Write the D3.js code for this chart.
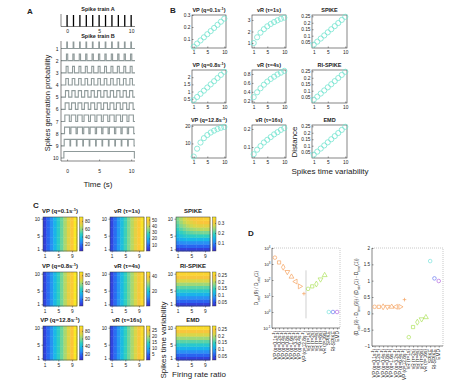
<!DOCTYPE html>
<html><head><meta charset="utf-8">
<script src="https://cdn.jsdelivr.net/npm/d3@7"></script>
<style>body{margin:0;background:#fff}</style>
</head><body><script>
// ================= DATA =================
// Panel A
const spikeTrainA = [0,1,2,3,4,5,6,7,8,9,10];
const trainBRows = [1,2,3,4,5,6,7,8,9,10];
const trainBWindow = [0.1,0.2,0.3,0.4,0.5,0.6,0.7,0.8,0.9,1.0];
const timeTicks = [0,5,10];

// Panel B (x = spikes time variability 1..10)
const variability = [1,2,3,4,5,6,7,8,9,10];
const bVP01    = [0.035,0.062,0.088,0.114,0.14,0.166,0.192,0.218,0.244,0.27];
const bVR1     = [1.0,1.5,1.9,2.2,2.45,2.65,2.82,2.97,3.1,3.2];
const bSPIKE   = [0.03,0.054,0.078,0.102,0.126,0.15,0.174,0.198,0.222,0.246];
const bVP08    = [0.4,0.62,0.84,1.06,1.28,1.5,1.72,1.94,2.16,2.38];
const bVR4     = [0.28,0.39,0.48,0.56,0.63,0.69,0.74,0.79,0.83,0.87];
const bRISPIKE = [0.03,0.054,0.078,0.102,0.126,0.15,0.174,0.198,0.222,0.246];
const bVP128   = [2.5,7,10.5,13,14.8,16.2,17.3,18.2,18.9,19.4];
const bVR16    = [0.06,0.085,0.105,0.125,0.14,0.155,0.17,0.182,0.195,0.205];
const bEMD     = [0.03,0.054,0.078,0.102,0.126,0.15,0.174,0.198,0.222,0.246];

// Panel C (x = firing rate ratio 1..10, y = spikes time variability 1..10)
const rateRatio = [1,2,3,4,5,6,7,8,9,10];
const cVP01byRate  = [8,17,26,35,44,53,62,71,80,88];
const cVR1byRate   = [4,10,16,22,28,33,38,43,48,52];
const cVP08byRate  = [8,17,26,35,44,53,62,71,79,86];
const cVR4byRate   = [3,8,13,18,23,27,31,35,39,43];
const cVP128byRate = [9,18,27,37,46,55,64,73,82,91];
const cVR16byRate  = [2,5,8,11,14,16.5,19,21.5,24,26.5];
const cRISPIKEbyVar = [0.035,0.06,0.085,0.11,0.135,0.16,0.185,0.21,0.235,0.25];
const cEMDbyVar     = [0.035,0.06,0.085,0.11,0.135,0.16,0.185,0.21,0.235,0.255];
const cSPIKE = [ // rows: variability 1..10 ; columns: rate ratio 1..10
  [0.04,0.04,0.04,0.04,0.04,0.04,0.04,0.04,0.04,0.04],
  [0.07,0.07,0.075,0.075,0.075,0.075,0.075,0.075,0.075,0.075],
  [0.10,0.105,0.11,0.11,0.11,0.11,0.11,0.11,0.11,0.11],
  [0.13,0.14,0.145,0.15,0.15,0.15,0.15,0.15,0.15,0.15],
  [0.15,0.165,0.175,0.18,0.185,0.185,0.19,0.19,0.19,0.19],
  [0.17,0.19,0.2,0.21,0.215,0.22,0.22,0.225,0.225,0.225],
  [0.19,0.21,0.225,0.235,0.245,0.25,0.255,0.26,0.26,0.26],
  [0.205,0.23,0.245,0.26,0.27,0.28,0.285,0.29,0.29,0.29],
  [0.22,0.245,0.265,0.28,0.29,0.3,0.31,0.315,0.315,0.315],
  [0.23,0.255,0.275,0.29,0.305,0.315,0.32,0.325,0.33,0.33]
];

// Panel D
const dCategories = ["VP (q=0.1s^{-1})","VP (q=0.2s^{-1})","VP (q=0.4s^{-1})","VP (q=0.8s^{-1})",
  "VP (q=1.6s^{-1})","VP (q=3.2s^{-1})","VP (q=6.4s^{-1})","VP (q=12.8s^{-1})",
  "vR (τ=1s)","vR (τ=2s)","vR (τ=4s)","vR (τ=8s)","vR (τ=16s)","SPIKE","RI-SPIKE","EMD"];
const dGroups  = ["VP","VP","VP","VP","VP","VP","VP","VP","vR","vR","vR","vR","vR","SPIKE","RI-SPIKE","EMD"];
const dMarkers = ["circle","square","diamond","tridown","triup","trileft","triright","plus",
  "circle","square","diamond","tridown","triup","circle","circle","circle"];
const dRatio = [2500,1250,630,320,160,80,40,14, 28,40,56,110,200, 1,1,1];
const dNormDiff = [0.2,0.2,0.2,0.2,0.2,0.2,0.2,0.42, -0.73,-0.42,-0.27,-0.18,-0.12, 1.6,1.07,0.99];
const dRange8 = [0.4,400];
const groupColors = {"VP":"#f5a25e","vR":"#aee35c","SPIKE":"#79e3dc","RI-SPIKE":"#6b7cf0","EMD":"#b56be0"};

// ================= HELPERS =================
const svg = d3.select("body").append("svg").attr("width",474).attr("height",389)
  .style("font-family","'Liberation Sans',Arial,Helvetica,sans-serif");
const INK = "#222";
function rich(t,str,fs){
  const re=/([\^_])\{([^}]*)\}/g; let last=0,m;
  while((m=re.exec(str))!==null){
    if(m.index>last) t.append("tspan").text(str.slice(last,m.index));
    t.append("tspan").attr("baseline-shift",m[1]==="^"?"super":"sub").attr("font-size",fs*0.7).text(m[2]);
    last=re.lastIndex;
  }
  if(last<str.length) t.append("tspan").text(str.slice(last));
}
function txt(g,x,y,str,o={}){
  const fs=o.fs||5;
  const t=g.append("text").attr("x",x).attr("y",y).attr("font-size",fs)
    .attr("text-anchor",o.anchor||"middle").attr("fill",o.fill||INK);
  if(o.bold) t.attr("font-weight","bold");
  if(o.rot) t.attr("transform",`rotate(${o.rot},${x},${y})`);
  rich(t,str,fs);
  return t;
}
function styleAxis(g,fs){
  g.attr("font-size",fs).attr("font-family",null);
  g.select(".domain").attr("stroke","#333").attr("stroke-width",0.6);
  g.selectAll(".tick line").attr("stroke","#333").attr("stroke-width",0.5);
  g.selectAll(".tick text").attr("fill",INK);
}
const parula = d3.piecewise(d3.interpolateRgb,['#3a2fc8','#2a55f0','#2a8cf5','#18b8e8','#30cfc0','#8ad88a','#d6d84a','#fcc43a','#f8f020']);

// ================= PANEL A =================
const gA = svg.append("g");
txt(gA,30,14,"A",{fs:8,bold:true});
const xA = d3.scaleLinear().domain([-0.95,10.6]).range([61,135]);
txt(gA,98,11,"Spike train A",{fs:5.5,bold:true});
gA.append("path").attr("d",`M${xA(-0.95)},14V26.5H${xA(10.6)}`).attr("fill","none").attr("stroke","#333").attr("stroke-width",0.6);
gA.selectAll(".spkA").data(spikeTrainA).join("line").attr("class","spkA")
  .attr("x1",d=>xA(d)).attr("x2",d=>xA(d)).attr("y1",15).attr("y2",26.5)
  .attr("stroke","#000").attr("stroke-width",1.3);
const axA1 = gA.append("g").attr("transform","translate(0,26.5)")
  .call(d3.axisBottom(xA).tickValues(timeTicks).tickSize(-1.5).tickSizeOuter(0).tickPadding(2.5));
styleAxis(axA1,5); axA1.select(".domain").remove();

txt(gA,98,38,"Spike train B",{fs:5.5,bold:true});
const yB = d3.scaleLinear().domain([1,10]).range([48.5,158]);
const bBottom = 161;
trainBRows.forEach((r,i)=>{
  const w = trainBWindow[i], base = yB(r), top = base-6.5;
  const iv=[];
  spikeTrainA.forEach(s=>{
    const a=s-w/2,b=s+w/2;
    if(iv.length && a<=iv[iv.length-1][1]+1e-9) iv[iv.length-1][1]=b; else iv.push([a,b]);
  });
  let d=`M${xA(-0.95)},${base}`;
  iv.forEach(([a,b])=>{ d+=`H${xA(a)}V${top}H${xA(b)}V${base}`; });
  d+=`H${xA(10.6)}`;
  gA.append("path").attr("d",d).attr("fill","none").attr("stroke","#8f9a9a").attr("stroke-width",1.1);
});
const yBax = d3.scaleLinear().domain([1,10]).range([yB(1),yB(10)]);
const axB1 = gA.append("g").attr("transform",`translate(${xA(-0.95)},0)`)
  .call(d3.axisLeft(yBax).tickValues(trainBRows).tickSize(0).tickPadding(2.5));
styleAxis(axB1,5); axB1.select(".domain").remove();
gA.append("path").attr("d",`M${xA(-0.95)},41V${bBottom}H${xA(10.6)}`).attr("fill","none").attr("stroke","#333").attr("stroke-width",0.6);
const axB2 = gA.append("g").attr("transform",`translate(0,${bBottom})`)
  .call(d3.axisBottom(xA).tickValues(timeTicks).tickSize(-1.5).tickSizeOuter(0).tickPadding(8));
styleAxis(axB2,5); axB2.select(".domain").remove();
txt(gA,98,187,"Time (s)",{fs:8});
txt(gA,50,103,"Spikes generation probability",{fs:7.5,rot:-90});

// ================= PANEL B =================
const gB = svg.append("g");
txt(gB,173,13,"B",{fs:8,bold:true});
function bPlot(left,top,w,title,vals,dom,ticks){
  const h=33;
  const x=d3.scaleLinear().domain([0.5,10.5]).range([left,left+w]);
  const y=d3.scaleLinear().domain(dom).range([top+h,top]);
  const g=gB.append("g");
  g.append("rect").attr("x",left).attr("y",top).attr("width",w).attr("height",h)
    .attr("fill","#fff").attr("stroke","#333").attr("stroke-width",0.6);
  const ax=g.append("g").attr("transform",`translate(0,${top+h})`)
    .call(d3.axisBottom(x).tickValues([1,5,10]).tickSize(-1.5).tickSizeOuter(0).tickPadding(2.5));
  styleAxis(ax,4.8); ax.select(".domain").remove();
  const ay=g.append("g").attr("transform",`translate(${left},0)`)
    .call(d3.axisLeft(y).tickValues(ticks).tickSize(-1.5).tickSizeOuter(0).tickPadding(1.5).tickFormat(d3.format("~g")));
  styleAxis(ay,4.8); ay.select(".domain").remove();
  g.selectAll("circle").data(vals).join("circle")
    .attr("cx",(d,i)=>x(variability[i])).attr("cy",d=>y(d)).attr("r",2.6)
    .attr("fill","none").attr("stroke","#76e4d0").attr("stroke-width",0.8);
  txt(g,left+w/2,top-3,title,{fs:5.5,bold:true});
}
bPlot(192,15,34,"VP (q=0.1s^{-1})",bVP01,[0.025,0.3],[0.1,0.2,0.3]);
bPlot(252,15,34,"vR (τ=1s)",bVR1,[0.57,3.43],[1,2,3]);
bPlot(312,15,35,"SPIKE",bSPIKE,[0.005,0.26],[0.05,0.1,0.15,0.2,0.25]);
bPlot(192,70,34,"VP (q=0.8s^{-1})",bVP08,[0.2,2.5],[0.5,1,1.5,2]);
bPlot(252,70,34,"vR (τ=4s)",bVR4,[0.15,0.89],[0.2,0.4,0.6,0.8]);
bPlot(312,70,35,"RI-SPIKE",bRISPIKE,[0.005,0.26],[0.05,0.1,0.15,0.2,0.25]);
bPlot(192,125,34,"VP (q=12.8s^{-1})",bVP128,[1.7,20.5],[10,20]);
bPlot(252,125,34,"vR (τ=16s)",bVR16,[0.039,0.222],[0.1,0.2]);
bPlot(312,125,35,"EMD",bEMD,[0.005,0.26],[0.05,0.1,0.15,0.2,0.25]);
txt(gB,297,142,"Distance",{fs:8,rot:-90});
txt(gB,330,174,"Spikes time variability",{fs:8});

// ================= PANEL C =================
const gC = svg.append("g");
const defs = svg.append("defs");
txt(gC,36,208,"C",{fs:8,bold:true});
let cbId=0;
function cPlot(left,top,title,matrix,dom,cbTicks){
  const w=34,h=34;
  const xb=d3.scaleBand().domain(rateRatio).range([left,left+w]);
  const yb=d3.scaleBand().domain(variability).range([top+h,top]);
  const color=d3.scaleSequential(parula).domain(dom);
  const g=gC.append("g");
  matrix.forEach((row,i)=>{
    g.selectAll(null).data(row).join("rect")
      .attr("x",(d,j)=>xb(rateRatio[j])).attr("y",yb(variability[i]))
      .attr("width",xb.bandwidth()+0.4).attr("height",yb.bandwidth()+0.4)
      .attr("fill",d=>color(d));
  });
  g.append("rect").attr("x",left).attr("y",top).attr("width",w).attr("height",h)
    .attr("fill","none").attr("stroke","#333").attr("stroke-width",0.5);
  const xl=d3.scaleLinear().domain([0.5,10.5]).range([left,left+w]);
  const yl=d3.scaleLinear().domain([0.5,10.5]).range([top+h,top]);
  const ax=g.append("g").attr("transform",`translate(0,${top+h})`)
    .call(d3.axisBottom(xl).tickValues([1,5,9]).tickSize(1.5).tickSizeOuter(0).tickPadding(2));
  styleAxis(ax,4.8); ax.select(".domain").remove();
  const ay=g.append("g").attr("transform",`translate(${left},0)`)
    .call(d3.axisLeft(yl).tickValues([1,5,10]).tickSize(1.5).tickSizeOuter(0).tickPadding(1.5));
  styleAxis(ay,4.8); ay.select(".domain").remove();
  const id="cb"+(cbId++);
  const grad=defs.append("linearGradient").attr("id",id).attr("x1",0).attr("x2",0).attr("y1",1).attr("y2",0);
  d3.range(0,1.0001,0.05).forEach(t=>grad.append("stop").attr("offset",t).attr("stop-color",parula(t)));
  const cx=left+w+2.5, cw=3.5;
  g.append("rect").attr("x",cx).attr("y",top).attr("width",cw).attr("height",h)
    .attr("fill",`url(#${id})`).attr("stroke","#333").attr("stroke-width",0.4);
  const cs=d3.scaleLinear().domain(dom).range([top+h,top]);
  const ac=g.append("g").attr("transform",`translate(${cx+cw},0)`)
    .call(d3.axisRight(cs).tickValues(cbTicks).tickSize(-1).tickSizeOuter(0).tickPadding(2).tickFormat(d3.format("~g")));
  styleAxis(ac,4.6); ac.select(".domain").remove();
  txt(g,left+w/2,top-4,title,{fs:6,bold:true});
}
const byRate = prof => variability.map(()=>prof.slice());
const byVar  = prof => prof.map(v=>rateRatio.map(()=>v));
cPlot(43,217,"VP (q=0.1s^{-1})",byRate(cVP01byRate),[3,90],[20,40,60,80]);
cPlot(110,217,"vR (τ=1s)",byRate(cVR1byRate),[0,54],[10,20,30,40,50]);
cPlot(176,217,"SPIKE",cSPIKE,[0.02,0.36],[0.1,0.2,0.3]);
cPlot(43,272,"VP (q=0.8s^{-1})",byRate(cVP08byRate),[2,88],[20,40,60,80]);
cPlot(110,272,"vR (τ=4s)",byRate(cVR4byRate),[0,46],[20,40]);
cPlot(176,272,"RI-SPIKE",byVar(cRISPIKEbyVar),[0.02,0.27],[0.05,0.1,0.15,0.2,0.25]);
cPlot(43,326,"VP (q=12.8s^{-1})",byRate(cVP128byRate),[3,93],[20,40,60,80]);
cPlot(110,326,"vR (τ=16s)",byRate(cVR16byRate),[0,28],[5,10,15,20,25]);
cPlot(176,326,"EMD",byVar(cEMDbyVar),[0.02,0.27],[0.05,0.1,0.15,0.2,0.25]);
txt(gC,166,340,"Spikes time variability",{fs:8,rot:-90});
txt(gC,199,377,"Firing rate ratio",{fs:8});

// ================= PANEL D =================
const gD = svg.append("g");
txt(gD,251,236,"D",{fs:8,bold:true});
function marker(g,type,x,y,color,s){
  const st=p=>p.attr("fill","none").attr("stroke",color).attr("stroke-width",0.7);
  if(type==="circle") return st(g.append("circle").attr("cx",x).attr("cy",y).attr("r",s));
  if(type==="plus") return st(g.append("path").attr("d",`M${x-s},${y}H${x+s}M${x},${y-s}V${y+s}`));
  const sym={square:d3.symbolSquare,diamond:d3.symbolDiamond}[type]||d3.symbolTriangle;
  const rot={tridown:180,trileft:-90,triright:90}[type]||0;
  return st(g.append("path").attr("d",d3.symbol(sym,s*s*3.2)()).attr("transform",`translate(${x},${y}) rotate(${rot})`));
}
function dFrame(g,L,R,T,B){
  g.append("path").attr("d",`M${L},${T}V${B}H${R}`).attr("fill","none").attr("stroke","#333").attr("stroke-width",0.6);
  g.append("path").attr("d",`M${L},${T}H${R}V${B}`).attr("fill","none").attr("stroke","#777").attr("stroke-width",0.5).attr("stroke-dasharray","0.8,1.2");
}
function dXLabels(g,x,B){
  const ax=g.append("g").attr("transform",`translate(0,${B})`)
    .call(d3.axisBottom(x).tickValues(d3.range(1,17)).tickSize(1.5).tickSizeOuter(0).tickFormat(""));
  styleAxis(ax,4.8); ax.select(".domain").remove();
  dCategories.forEach((c,i)=>{
    txt(g,x(i+1)+1.6,B+3,c,{fs:4.8,anchor:"end",rot:-90});
  });
}
// left plot
{
  const L=272,R=340,T=248,B=328;
  const x=d3.scaleLinear().domain([0.3,16.7]).range([L,R]);
  const y=d3.scaleLog().domain([0.1,1e4]).range([B,T]);
  const g=gD.append("g");
  dFrame(g,L,R,T,B);
  const ay=g.append("g").attr("transform",`translate(${L},0)`)
    .call(d3.axisLeft(y).tickValues([0.1,1,10,100,1000,10000]).tickSize(-1.5).tickSizeOuter(0).tickPadding(1.5).tickFormat(()=>""));
  styleAxis(ay,4.2); ay.select(".domain").remove();
  [-1,0,1,2,3,4].forEach(e=>txt(g,L-1.5,y(Math.pow(10,e))+1.5,`10^{${e}}`,{fs:4.2,anchor:"end"}));
  g.append("line").attr("x1",x(8.5)).attr("x2",x(8.5)).attr("y1",y(dRange8[1])).attr("y2",y(dRange8[0]))
    .attr("stroke","#bbb").attr("stroke-width",0.7);
  dRatio.forEach((v,i)=>marker(g,dMarkers[i],x(i+1),y(v),groupColors[dGroups[i]],1.8));
  dXLabels(g,x,B);
  txt(g,258,288,"D_{rate}(9) / D_{rate}(1)",{fs:4.8,rot:-90});
}
// right plot
{
  const L=372,R=443,T=248,B=346;
  const x=d3.scaleLinear().domain([0.4,17]).range([L,R]);
  const y=d3.scaleLinear().domain([-1,2]).range([B,T]);
  const g=gD.append("g");
  dFrame(g,L,R,T,B);
  const ay=g.append("g").attr("transform",`translate(${L},0)`)
    .call(d3.axisLeft(y).tickValues([-1,-0.5,0,0.5,1,1.5,2]).tickSize(-1.5).tickSizeOuter(0).tickPadding(2).tickFormat(d3.format("~g")));
  styleAxis(ay,4.5); ay.select(".domain").remove();
  dNormDiff.forEach((v,i)=>marker(g,dMarkers[i],x(i+1),y(v),groupColors[dGroups[i]],1.8));
  dXLabels(g,x,B);
  txt(g,358,297,"(D_{rate}(9) - D_{time}(9)) / (D_{rate}(1) - D_{time}(1))",{fs:4.6,rot:-90});
}
</script></body></html>
